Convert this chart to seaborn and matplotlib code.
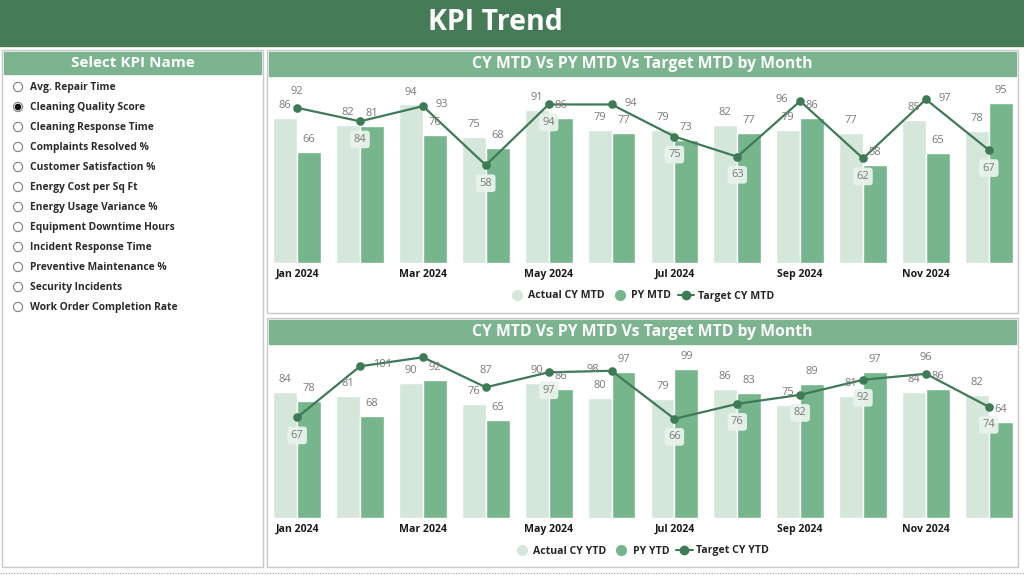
import numpy as np
import pandas as pd
import seaborn as sns
import matplotlib.pyplot as plt
from matplotlib.patches import Rectangle, Circle
from matplotlib.lines import Line2D

months = ["Jan 2024", "Feb 2024", "Mar 2024", "Apr 2024", "May 2024", "Jun 2024",
          "Jul 2024", "Aug 2024", "Sep 2024", "Oct 2024", "Nov 2024", "Dec 2024"]
tick_labels = ["Jan 2024", "Mar 2024", "May 2024", "Jul 2024", "Sep 2024", "Nov 2024"]

actual_mtd = [86, 82, 94, 75, 91, 79, 79, 82, 79, 77, 85, 78]
py_mtd = [66, 81, 76, 68, 86, 77, 73, 77, 86, 58, 65, 95]
target_mtd = [92, 84, 93, 58, 94, 94, 75, 63, 96, 62, 97, 67]

actual_ytd = [84, 81, 90, 76, 90, 80, 79, 86, 75, 81, 84, 82]
py_ytd = [78, 68, 92, 65, 86, 97, 99, 83, 89, 97, 86, 64]
target_ytd = [67, 101, 107, 87, 97, 98, 66, 76, 82, 92, 96, 74]

kpi_names = ["Avg. Repair Time", "Cleaning Quality Score", "Cleaning Response Time",
             "Complaints Resolved %", "Customer Satisfaction %", "Energy Cost per Sq Ft",
             "Energy Usage Variance %", "Equipment Downtime Hours", "Incident Response Time",
             "Preventive Maintenance %", "Security Incidents", "Work Order Completion Rate"]
selected_kpi = "Cleaning Quality Score"

# where the target label sits: a=above, b=below (boxed), l=left, r=right, ""=hidden
mtd_label_pos = ["a", "b", "r", "b", "b", "r", "b", "b", "l", "b", "r", "b"]
ytd_label_pos = ["b", "r", "", "a", "b", "l", "b", "b", "b", "b", "a", "b"]

dark_green = "#457b57"
header_green = "#7bb48e"
light_bar = "#d4e7da"
dark_bar = "#77b58c"
line_c = "#3f7a56"
lab_c = "#7a7a7a"

sns.set_style("white")
plt.rcParams["font.family"] = ["Open Sans", "DejaVu Sans"]

W, H = 1024, 577
fig = plt.figure(figsize=(W / 100, H / 100), dpi=100)
bg = fig.add_axes([0, 0, 1, 1])
bg.set_xlim(0, W)
bg.set_ylim(H, 0)
bg.axis("off")

# top banner
bg.add_patch(Rectangle((0, 0), W, 46, color=dark_green))
bg.text(495, 23, "KPI Trend", color="white", fontsize=20.5, fontweight="bold",
        ha="center", va="center")

# panels
def panel(x0, y0, x1, y1, hy, title, fs):
    bg.add_patch(Rectangle((x0, y0), x1 - x0, y1 - y0, facecolor="white",
                           edgecolor="#c9c8d0", lw=1))
    bg.add_patch(Rectangle((x0 + 2, y0 + 2), x1 - x0 - 4, hy - y0 - 2, color=header_green))
    bg.text((x0 + x1) / 2, (y0 + hy) / 2 + 1, title, color="white", fontsize=fs,
            fontweight="bold", ha="center", va="center")

panel(2, 50, 263, 567, 74, "Select KPI Name", 11)
panel(267, 50, 1018, 313, 76, "CY MTD Vs PY MTD Vs Target MTD by Month", 11.3)
panel(267, 318, 1018, 567, 344, "CY MTD Vs PY MTD Vs Target MTD by Month", 11.3)

# slicer list
for i, name in enumerate(kpi_names):
    y = 87 + 20 * i
    bg.add_patch(Circle((18, y), 4.6, facecolor="white", edgecolor="#808080", lw=0.8))
    if name == selected_kpi:
        bg.add_patch(Circle((18, y), 2.6, color="#111111"))
    bg.text(30, y + 0.5, name, fontsize=7.4, fontweight="bold", color="#2b2b2b", va="center")

bg.plot([0, W], [573, 573], color="#9a9a9a", lw=0.8, ls=(0, (1, 1.5)))


def draw_chart(top, bottom, actual, py, target, ymax, label_pos, names, legend_y):
    ax = fig.add_axes([273 / W, 1 - bottom / H, (1013 - 273) / W, (bottom - top) / H])
    ax.patch.set_alpha(0)
    df = pd.DataFrame({"month": months * 2, "value": actual + py,
                       "series": [names[0]] * 12 + [names[1]] * 12})
    sns.barplot(data=df, x="month", y="value", hue="series", palette=[light_bar, dark_bar],
                width=0.76, saturation=1, ax=ax, legend=False, zorder=1)
    sns.pointplot(x=months, y=target, color=line_c, markersize=5, linewidth=1.6,
                  errorbar=None, ax=ax, zorder=3)
    ax.set_xlim(-0.385, 11.385)
    ax.set_ylim(0, ymax)
    ax.set_xticks(range(0, 12, 2))
    ax.set_xticklabels(tick_labels, fontsize=7.6, fontweight="bold", color="#1a1a1a")
    ax.tick_params(axis="x", length=0, pad=4)
    ax.set_yticks([])
    ax.set_xlabel("")
    ax.set_ylabel("")
    sns.despine(ax=ax, left=True, bottom=True)

    for i in range(12):
        ax.annotate(str(actual[i]), (i - 0.19, actual[i]), xytext=(0, 5), textcoords="offset points",
                    ha="center", va="bottom", fontsize=8, color=lab_c, zorder=4)
        ax.annotate(str(py[i]), (i + 0.19, py[i]), xytext=(0, 5), textcoords="offset points",
                    ha="center", va="bottom", fontsize=8, color=lab_c, zorder=4)
        p = label_pos[i]
        if p == "":
            continue
        kw = dict(textcoords="offset points", fontsize=8, color=lab_c, zorder=5)
        if p == "a":
            ax.annotate(str(target[i]), (i, target[i]), xytext=(0, 12), ha="center", va="center", **kw)
        elif p == "b":
            ax.annotate(str(target[i]), (i, target[i]), xytext=(0, -13), ha="center", va="center",
                        bbox=dict(boxstyle="round,pad=0.3", fc="#e9f3ec", ec="none", alpha=0.95), **kw)
        elif p == "r":
            ax.annotate(str(target[i]), (i, target[i]), xytext=(9, 1), ha="left", va="center", **kw)
        else:
            ax.annotate(str(target[i]), (i, target[i]), xytext=(-9, 1), ha="right", va="center", **kw)

    handles = [Line2D([], [], ls="", marker="o", ms=7, color=light_bar),
               Line2D([], [], ls="", marker="o", ms=7, color=dark_bar),
               Line2D([], [], color=line_c, lw=1.5, marker="o", ms=6)]
    fig.legend(handles, names, loc="center", bbox_to_anchor=(641 / W, 1 - legend_y / H),
               ncol=3, frameon=False, handletextpad=0.3, columnspacing=0.6, handlelength=1.6,
               prop={"weight": "bold", "size": 7.6})
    return ax


draw_chart(80, 263, actual_mtd, py_mtd, target_mtd, 108.5, mtd_label_pos,
           ["Actual CY MTD", "PY MTD", "Target CY MTD"], 296)
draw_chart(346, 518, actual_ytd, py_ytd, target_ytd, 114.5, ytd_label_pos,
           ["Actual CY YTD", "PY YTD", "Target CY YTD"], 551)

fig.savefig("out.png", dpi=100)
